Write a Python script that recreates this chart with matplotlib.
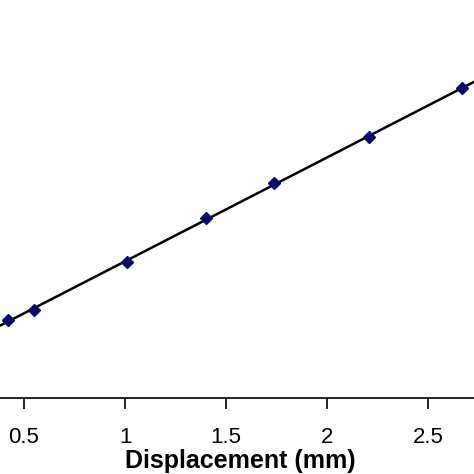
import numpy as np
import matplotlib.pyplot as plt

disp = [0.42, 0.55, 1.01, 1.40, 1.74, 2.21, 2.67]
signal = [154, 164, 212, 256, 291, 337, 386]
xticks = [0.5, 1, 1.5, 2, 2.5]

plt.rcParams['font.family'] = ['Liberation Sans', 'DejaVu Sans']

fig = plt.figure(figsize=(4.74, 4.74), dpi=100)
ax = fig.add_axes([0, 0, 1, 1])
ax.set_xlim(0.381, 2.728)
ax.set_ylim(0, 474)

k, b = np.polyfit(disp, signal, 1)
xx = np.array([0.381, 2.728])
ax.plot(xx, k * xx + b, color='black', lw=1.8)
ax.plot(disp, signal, 'D', color='#0a0a6e', ms=6)

for s in ['top', 'right', 'left']:
    ax.spines[s].set_visible(False)
ax.spines['bottom'].set_position(('data', 76))
ax.spines['bottom'].set_linewidth(1.2)
ax.set_yticks([])
ax.set_xticks(xticks)
ax.set_xticklabels(['0.5', '1', '1.5', '2', '2.5'])
ax.tick_params(axis='x', direction='out', length=8, width=1.2, labelsize=16, pad=13)
ax.text(1.57, 13, 'Displacement (mm)', fontsize=18, fontweight='bold', ha='center', va='center')

fig.savefig('out.png', dpi=100)
